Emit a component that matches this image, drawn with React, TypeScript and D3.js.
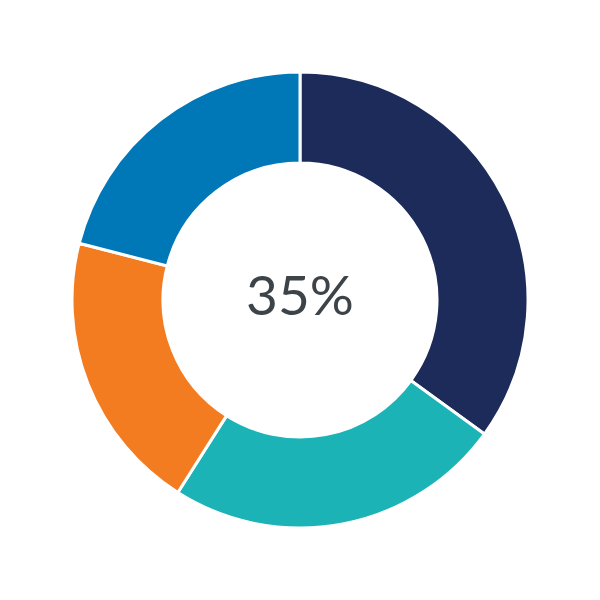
import React from "react";
import * as d3 from "d3";

const categories = ["A", "B", "C", "D"];
const values = [35, 24, 20, 21];
const colors = ["#1c2b5a", "#1bb3b6", "#f47c20", "#0077b6"];
const centerLabel = "35%";

export default function App() {
  const width = 600;
  const height = 600;
  const cx = 300;
  const cy = 300;
  const outerR = 228;
  const innerR = 137;
  const pie = d3.pie<number>().sort(null).value((d) => d);
  const arcs = pie(values);
  const arc = d3.arc<d3.PieArcDatum<number>>().innerRadius(innerR).outerRadius(outerR);
  return (
    <svg width={width} height={height} style={{ position: "absolute", left: 0, top: 0 }}>
      <rect width={width} height={height} fill="#ffffff" />
      <g transform={`translate(${cx},${cy})`}>
        {arcs.map((a, i) => (
          <path key={categories[i]} d={arc(a) || ""} fill={colors[i]} stroke="#ffffff" strokeWidth={3} />
        ))}
        <text
          x={0}
          y={-4}
          dy="0.35em"
          textAnchor="middle"
          fontFamily="Lato, sans-serif"
          fontWeight={400}
          fontSize={55}
          fill="#3d4449"
        >
          {centerLabel}
        </text>
      </g>
    </svg>
  );
}
